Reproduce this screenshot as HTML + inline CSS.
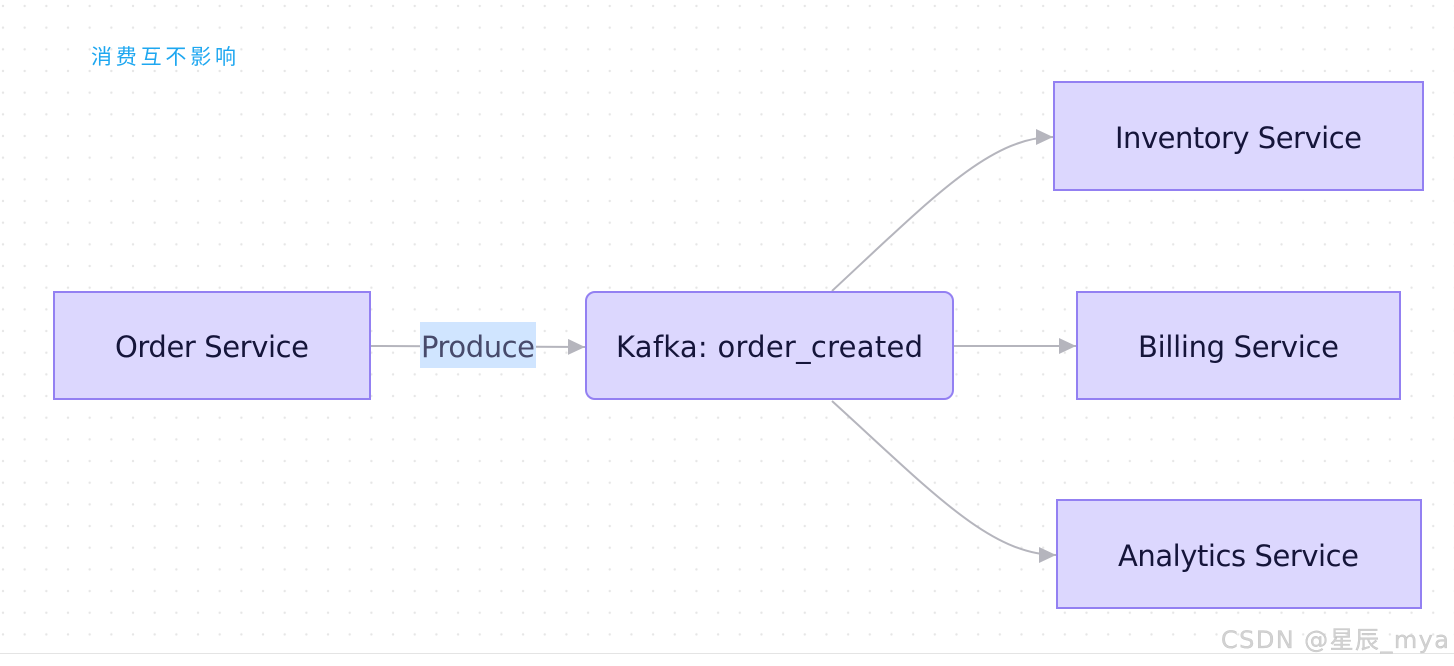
<!DOCTYPE html>
<html><head><meta charset="utf-8"><style>
html,body{margin:0;padding:0;background:#fff;width:1454px;height:666px;overflow:hidden}
svg{display:block}
text{font-family:"DejaVu Sans","Liberation Sans",sans-serif}
</style></head><body>
<svg width="1454" height="666" viewBox="0 0 1454 666" xmlns="http://www.w3.org/2000/svg">
<defs>
<pattern id="dots" x="3" y="6" width="21.67" height="21.67" patternUnits="userSpaceOnUse">
<circle cx="0" cy="0" r="1.2" fill="#e6e6e6"/>
<circle cx="21.67" cy="0" r="1.2" fill="#e6e6e6"/>
<circle cx="0" cy="21.67" r="1.2" fill="#e6e6e6"/>
<circle cx="21.67" cy="21.67" r="1.2" fill="#e6e6e6"/>
</pattern>
<marker id="arr" markerWidth="18" markerHeight="18" refX="17" refY="8" orient="auto" markerUnits="userSpaceOnUse">
<path d="M0,0 L17,8 L0,16 Z" fill="#b5b5bd"/>
</marker>
</defs>
<rect width="1454" height="653" fill="url(#dots)"/>
<line x1="0" y1="653.5" x2="1454" y2="653.5" stroke="#e4e4e4"/>
<text x="91" y="64" font-size="21" fill="#1ea7f0" font-family="'Noto Sans CJK SC',sans-serif" textLength="145">消费互不影响</text>

<!-- edges -->
<path d="M371,346 L585,347" stroke="#b5b5bd" stroke-width="2" fill="none" marker-end="url(#arr)"/>
<rect x="420" y="322" width="116" height="46" fill="#d0e5ff"/>
<text x="421" y="357" font-size="29" fill="#474a6b" textLength="114">Produce</text>
<path d="M832,291 C930,200 990,137 1053,137" stroke="#b5b5bd" stroke-width="2" fill="none" marker-end="url(#arr)"/>
<path d="M954,346 L1076,346" stroke="#b5b5bd" stroke-width="2" fill="none" marker-end="url(#arr)"/>
<path d="M832,401 C930,490 990,555 1056,555" stroke="#b5b5bd" stroke-width="2" fill="none" marker-end="url(#arr)"/>

<!-- nodes -->
<g fill="#dcd7fe" stroke="#9380f2" stroke-width="2">
<rect x="54" y="292" width="316" height="107"/>
<rect x="586" y="292" width="367" height="107" rx="9"/>
<rect x="1054" y="82" width="369" height="108"/>
<rect x="1077" y="292" width="323" height="107"/>
<rect x="1057" y="500" width="364" height="108"/>
</g>
<g font-size="29" fill="#15153a">
<text x="115" y="357" textLength="194">Order Service</text>
<text x="616" y="357" textLength="307">Kafka: order_created</text>
<text x="1115" y="148" textLength="247">Inventory Service</text>
<text x="1138" y="357" textLength="201">Billing Service</text>
<text x="1118" y="566" textLength="241">Analytics Service</text>
</g>
<text x="1221" y="648" font-size="24" fill="#d2d2d2" stroke="#bbb" stroke-width="0.3" font-family="'Liberation Sans','Noto Sans CJK SC',sans-serif" textLength="228">CSDN @星辰_mya</text>
</svg>
</body></html>
